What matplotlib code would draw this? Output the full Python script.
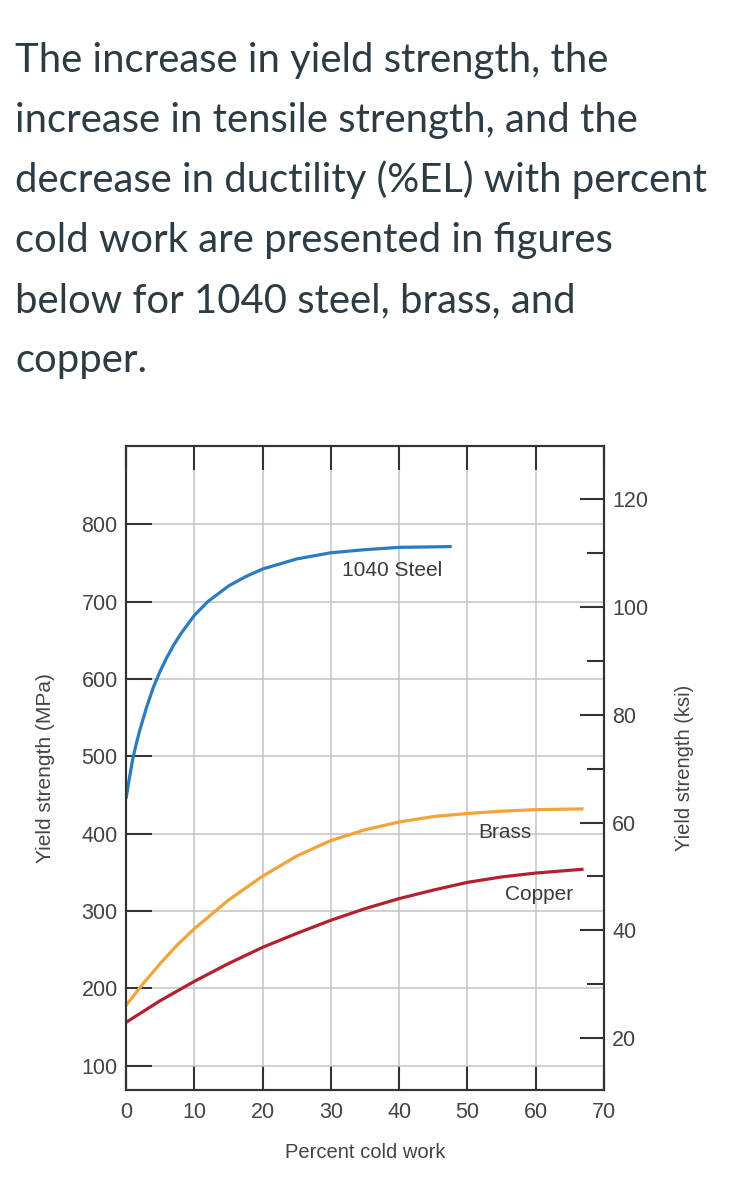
import matplotlib
matplotlib.use("Agg")
import matplotlib.pyplot as plt
import numpy as np

# ---- data ----
title_lines = [
    "The increase in yield strength, the",
    "increase in tensile strength, and the",
    "decrease in ductility (%EL) with percent",
    "cold work are presented in ﬁgures",
    "below for 1040 steel, brass, and",
    "copper.",
]

steel_x = [0, 0.5, 1, 1.5, 2, 3, 4, 5, 6, 7, 8, 10, 12, 15, 17.5, 20, 25, 30, 35, 40, 47.7]
steel_y = [445, 472, 497, 516, 533, 563, 589, 610, 628, 644, 658, 682, 700, 720, 732, 742, 755, 763, 767, 770, 771]

brass_x = [0, 2.5, 5, 7.5, 10, 15, 20, 25, 30, 35, 40, 45, 50, 55, 60, 67]
brass_y = [178, 206, 232, 256, 277, 314, 345, 371, 391, 405, 415, 422, 426, 429, 431, 432]

copper_x = [0, 5, 10, 15, 20, 25, 30, 35, 40, 45, 50, 55, 60, 67]
copper_y = [156, 184, 209, 232, 253, 271, 288, 303, 316, 327, 337, 344, 349, 354]

x_ticks = [0, 10, 20, 30, 40, 50, 60, 70]
mpa_ticks = [100, 200, 300, 400, 500, 600, 700, 800]
ksi_major = [20, 40, 60, 80, 100, 120]
ksi_minor = [30, 50, 70, 90, 110]

labels = {"1040 Steel": (39.0, 740), "Brass": (55.5, 401), "Copper": (60.5, 321)}

# ---- figure ----
W, H, DPI = 748, 1183, 100
fig = plt.figure(figsize=(W / DPI, H / DPI), dpi=DPI)

text_color = "#2d3b45"
y0 = 72
for i, line in enumerate(title_lines):
    fig.text(15 / W, 1 - (y0 + 60 * i) / H, line, fontsize=28.8, family=["Lato", "DejaVu Sans"],
             color=text_color, ha="left", va="baseline")

ax = fig.add_axes([126 / W, 1 - 1090 / H, (604 - 126) / W, (1090 - 446) / H])
font = "Liberation Sans"
lab_c = "#444444"
spine_c = "#333333"

ax.plot(steel_x, steel_y, color="#2a7bc0", lw=2.3, solid_capstyle="butt", solid_joinstyle="round", zorder=3)
ax.plot(brass_x, brass_y, color="#f2a33a", lw=2.3, solid_capstyle="butt", solid_joinstyle="round", zorder=3)
ax.plot(copper_x, copper_y, color="#b3202f", lw=2.3, solid_capstyle="butt", solid_joinstyle="round", zorder=3)

ax.set_xlim(0, 70)
ax.set_ylim(68.6, 901)
ax.set_xticks(x_ticks)
ax.set_xticklabels([str(v) for v in x_ticks], family=font, fontsize=15.5, color=lab_c)
ax.set_yticks(mpa_ticks)
ax.set_yticklabels([str(v) for v in mpa_ticks], family=font, fontsize=15.5, color=lab_c)
ax.grid(True, color="#c4c4c4", lw=1.1, zorder=0)
ax.tick_params(axis="x", which="major", direction="in", length=17, width=1.5, color=spine_c,
               top=True, bottom=True, pad=9)
ax.tick_params(axis="y", which="major", direction="in", length=19, width=1.5, color=spine_c,
               left=True, right=False, pad=6)
for s in ax.spines.values():
    s.set_color(spine_c)
    s.set_linewidth(1.5)

for txt, (xv, yv) in labels.items():
    ax.text(xv, yv, txt, family=font, fontsize=15, color="#3a3a3a", ha="center", va="center", zorder=4)

ax.set_xlabel("Percent cold work", family=font, fontsize=14.5, color=lab_c, labelpad=14)
ax.set_ylabel("Yield strength (MPa)", family=font, fontsize=15, color=lab_c, labelpad=19)

ax2 = ax.twinx()
ax2.set_ylim(10.41, 129.8)
ax2.set_yticks(ksi_major)
ax2.set_yticklabels([str(v) for v in ksi_major], family=font, fontsize=15.5, color=lab_c)
ax2.set_yticks(ksi_minor, minor=True)
ax2.tick_params(axis="y", which="major", direction="in", length=17.5, width=1.5, color=spine_c, pad=6)
ax2.tick_params(axis="y", which="minor", direction="in", length=12, width=1.5, color=spine_c)
for s in ax2.spines.values():
    s.set_color(spine_c)
    s.set_linewidth(1.5)
ax2.set_ylabel("Yield strength (ksi)", family=font, fontsize=14.5, color=lab_c, labelpad=19)

fig.savefig("out.png", dpi=DPI, facecolor="white")
